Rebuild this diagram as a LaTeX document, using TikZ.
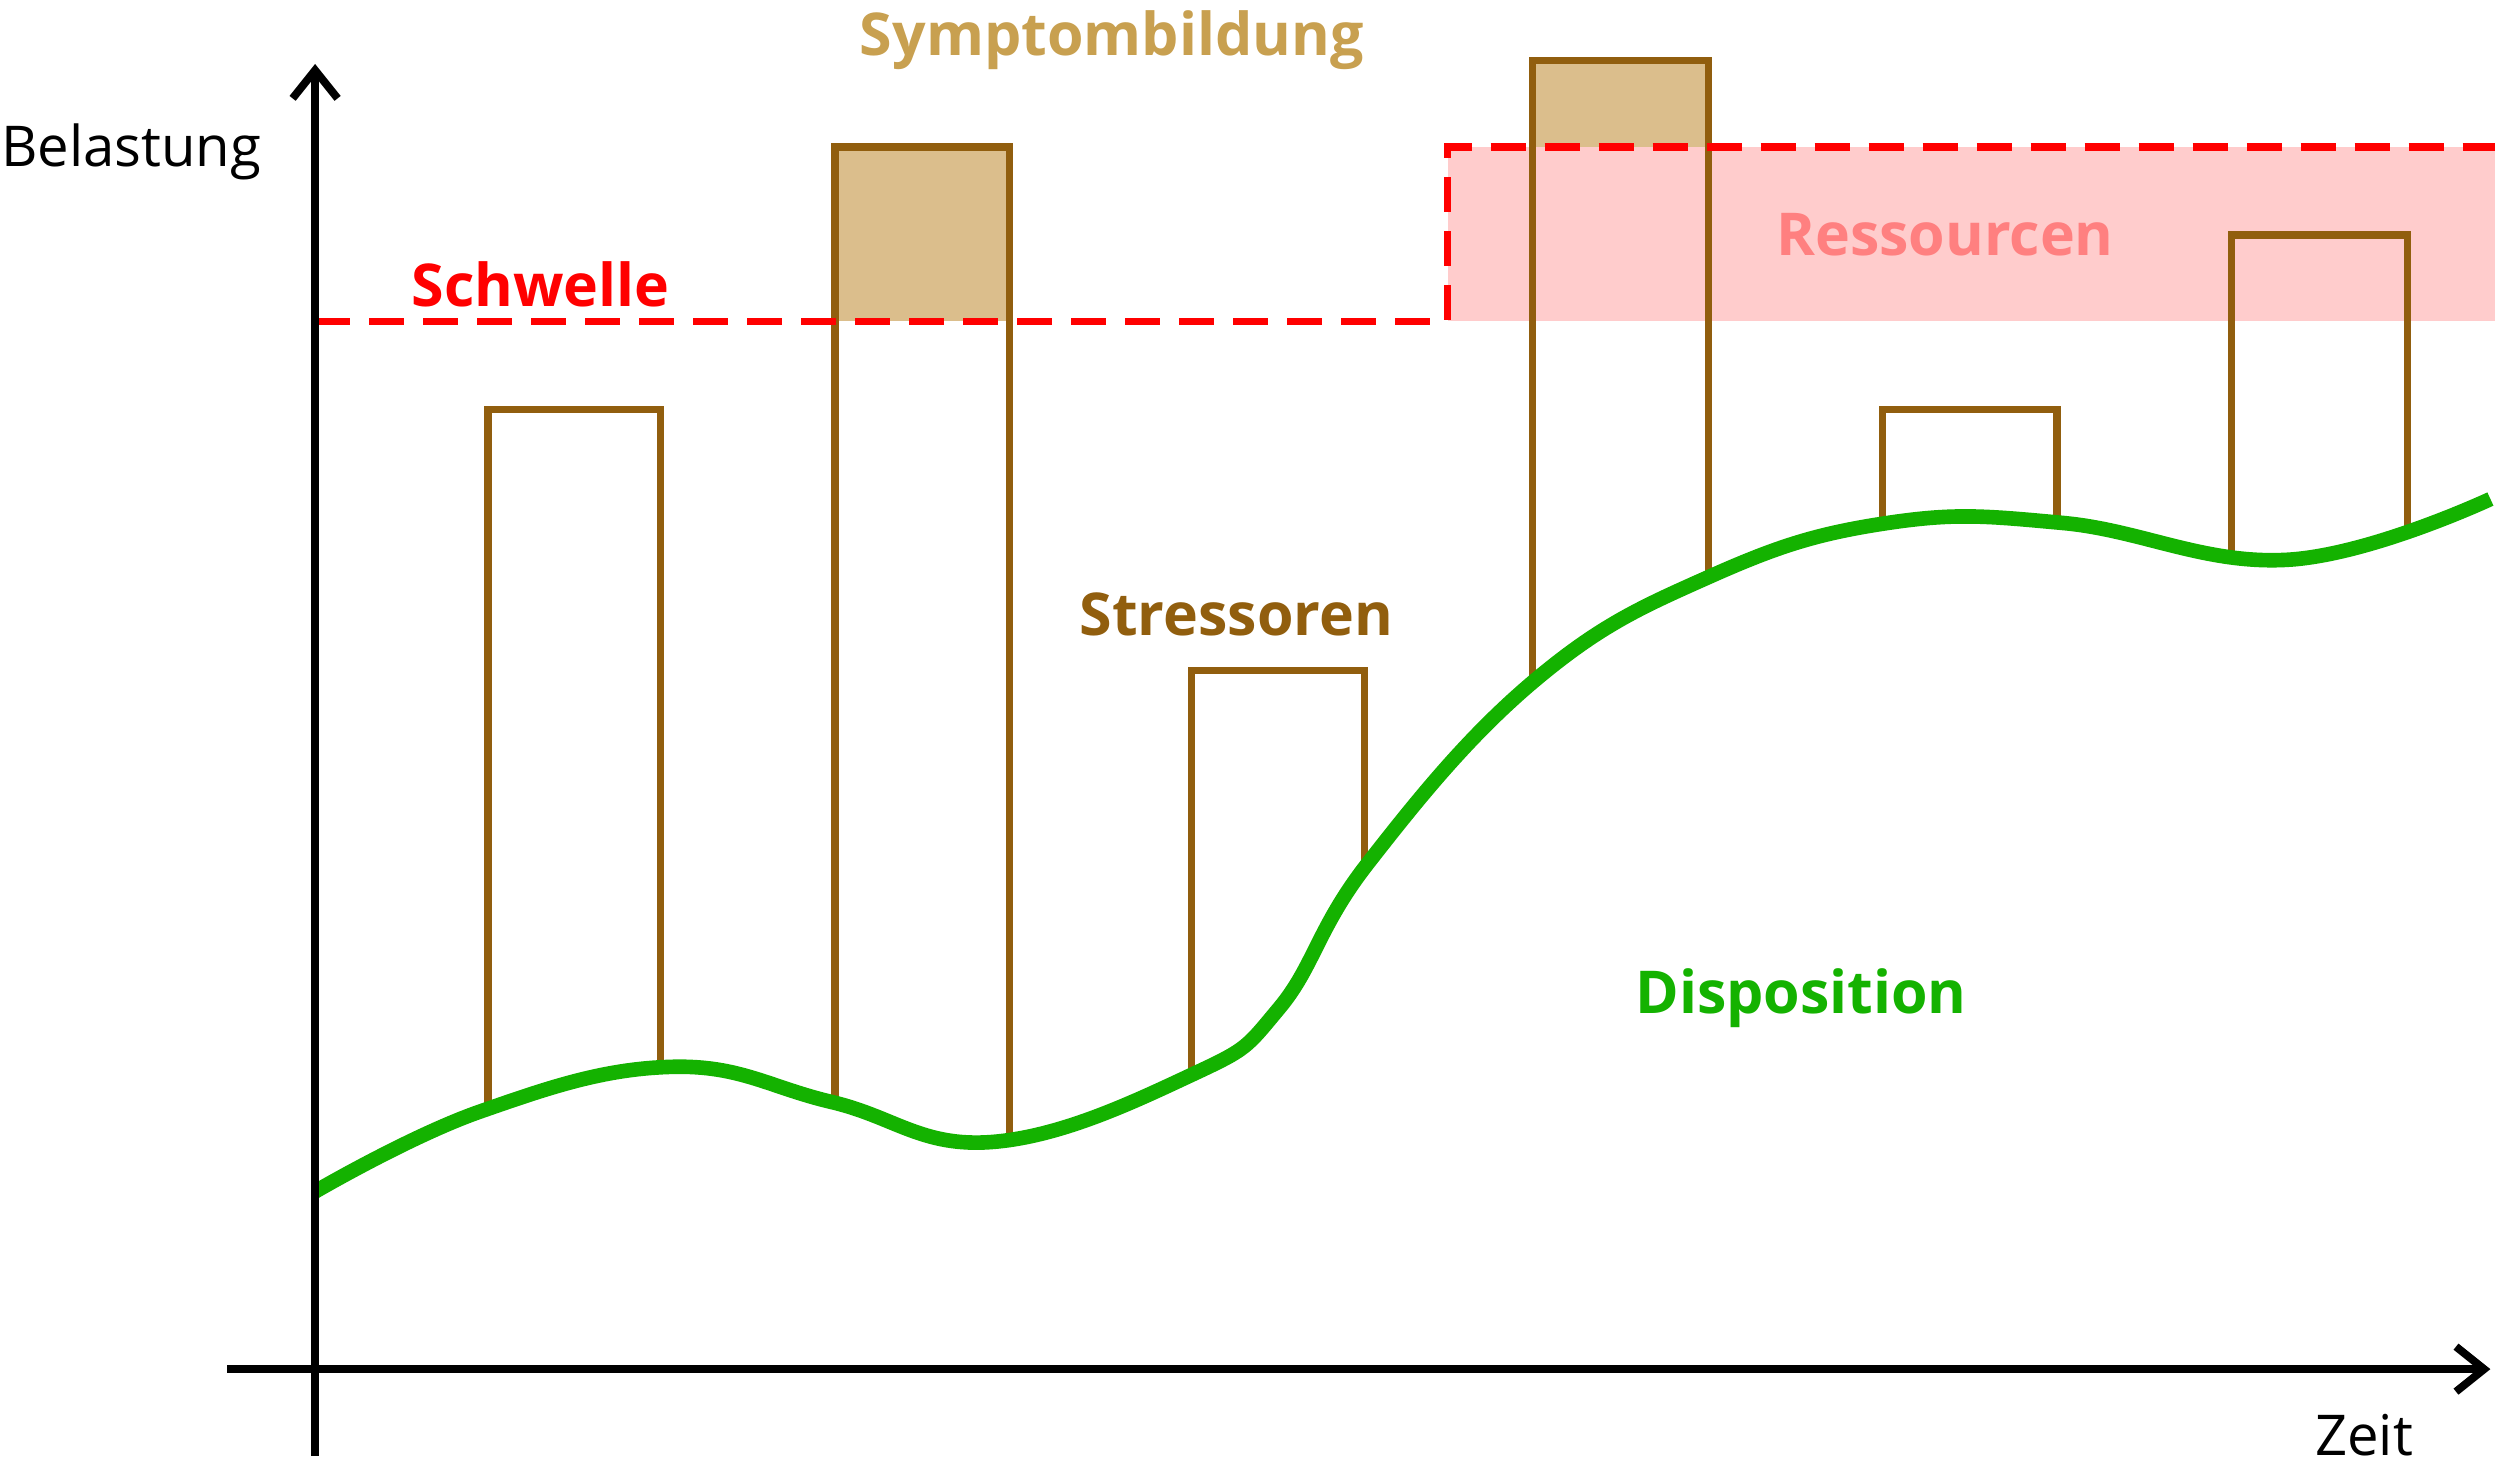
\documentclass[tikz,border=0pt]{standalone}
\usepackage{fontspec}
\setmainfont{Open Sans}
\usetikzlibrary{arrows.meta}
\definecolor{stress}{RGB}{145,94,14}
\definecolor{symptom}{RGB}{219,190,140}
\definecolor{symptomtext}{RGB}{200,160,80}
\definecolor{dispo}{RGB}{20,178,0}
\definecolor{ressource}{RGB}{255,204,204}
\definecolor{ressourcetext}{RGB}{255,128,128}
\begin{document}
\begin{tikzpicture}[x=0.01cm,y=-0.01cm,>={Straight Barb[length=5pt,width=8pt]},
  bar/.style={draw=stress,line width=1.3pt},
  threshold/.style={draw=red,line width=1.3pt,dash pattern=on 6.2pt off 3.4pt},
  lbl/.style={font=\bfseries\fontsize{10.5}{12}\selectfont}]
\useasboundingbox (0,0) rectangle (1563,916.5);

% resources band and symptom fills
\fill[ressource] (905,92) rectangle (1560,201);
\fill[symptom] (522,92) rectangle (631,201);
\fill[symptom] (958,38) rectangle (1068,92);

% stressor bars
\foreach \xa/\xb/\top in {305/413/256, 522/631/92, 745/853/419, 958/1068/38, 1177/1286/256, 1395/1505/147}
  \draw[bar] (\xa,850) -- (\xa,\top) -- (\xb,\top) -- (\xb,850);

% disposition curve, area below it blanked
\fill[white] (197,853) -- plot[smooth,tension=0.7] coordinates {(197,745) (300,695) (420,667) (520,689) (620,714) (745,672) (800,630) (855,540) (960,425) (1070,360) (1180,327) (1290,327) (1430,350) (1557,312)} -- (1557,853) -- cycle;
\draw[dispo,line width=2.6pt] plot[smooth,tension=0.7] coordinates {(197,745) (300,695) (420,667) (520,689) (620,714) (745,672) (800,630) (855,540) (960,425) (1070,360) (1180,327) (1290,327) (1430,350) (1557,312)};

% threshold
\draw[threshold] (197,201) -- (905,201) -- (905,92) -- (1560,92);

% axes
\coordinate (xs) at (142,856);
\coordinate (xe) at (1557,856);
\coordinate (ys) at (197,910);
\coordinate (ye) at (197,40);
\draw[line width=1.4pt,->] (xs) -- (xe);
\draw[line width=1.4pt,->] (ys) -- (ye);

\node[font=\fontsize{10}{12}\selectfont] (belastung) at (82,95) {Belastung};
\node[font=\fontsize{10}{12}\selectfont] (zeit) at (1478,897) {Zeit};
\node[lbl,text=red] (schwelle) at (338,178) {Schwelle};
\node[lbl,text=ressourcetext] (ressourcen) at (1216,147) {Ressourcen};
\node[lbl,text=symptomtext] (symptom) at (695,25) {Symptombildung};
\node[lbl,text=stress] (stressoren) at (773,384) {Stressoren};
\node[lbl,text=dispo] (disposition) at (1126,624) {Disposition};
\end{tikzpicture}
\end{document}
